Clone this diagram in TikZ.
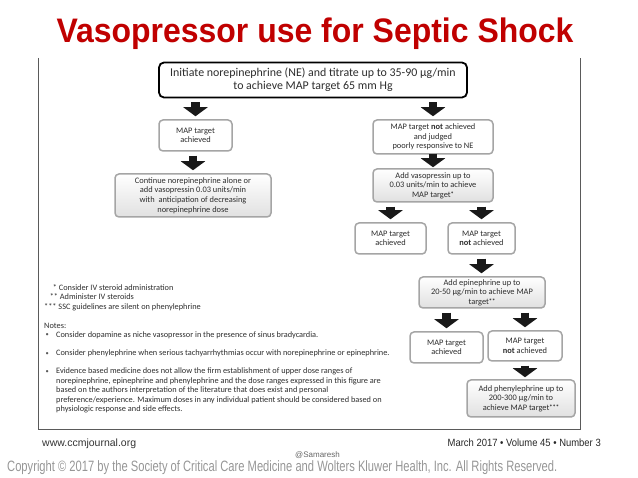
\documentclass[tikz,border=0pt]{standalone}
\usepackage{fontspec}
\setmainfont{Carlito}
\newfontfamily\arialfont{Liberation Sans}
\newfontfamily\titlefont{Liberation Sans}[FakeStretch=0.94]
\newfontfamily\narrowfont{Liberation Sans}[FakeStretch=0.745]
\newfontfamily\midfont{Liberation Sans}[FakeStretch=0.9]
\usetikzlibrary{arrows.meta}
\definecolor{titlered}{RGB}{192,0,0}
\definecolor{boxgray}{RGB}{165,165,165}
\definecolor{txtc}{RGB}{45,45,45}
\definecolor{arrowc}{RGB}{25,25,25}
\definecolor{framec}{RGB}{90,90,90}
\definecolor{copyc}{RGB}{150,150,150}
\newcommand{\stars}[1]{\raisebox{0.15em}{\fontsize{6.5}{6.5}\selectfont\bfseries #1}}
\tikzset{
  mainbox/.style={draw=black, line width=1.8pt, rounded corners=5pt, fill=white, align=center,
    text=txtc, font=\fontsize{11.9}{13.2}\selectfont, inner sep=0pt},
  mapbox/.style={draw=boxgray, line width=1.5pt, rounded corners=4pt, fill=white, align=center,
    text=txtc, font=\fontsize{8.4}{9.6}\selectfont, inner sep=0pt},
  actbox/.style={mapbox, top color=white, bottom color=black!12},
  blockarrow/.style={draw=arrowc, line width=8.5pt, -{Triangle[width=24pt,length=9pt]},
    shorten <=4pt, shorten >=3pt},
  notetxt/.style={anchor=base west, inner sep=0pt, text=txtc, font=\fontsize{8.3}{9.5}\selectfont},
  bullettxt/.style={anchor=base west, inner sep=0pt, text=black!65, font=\fontsize{6.5}{8}\selectfont},
}
\begin{document}
\begin{tikzpicture}[x=1pt,y=-1pt]
\useasboundingbox (0,0) rectangle (638,478);
% title
\node[anchor=base, inner sep=0pt, text=titlered, font=\titlefont\bfseries\fontsize{34}{38}\selectfont] (title) at (315,43) {Vasopressor use for Septic Shock};
% frame
\draw[framec, line width=0.8pt] (38,58) -- (38,429) -- (580,429) -- (580,58);
% boxes
\node[mainbox, minimum width=308pt, minimum height=35pt] (init) at (313,80)
  {Initiate norepinephrine (NE) and titrate up to 35-90 µg/min\\to achieve MAP target 65 mm Hg};
\node[mapbox, minimum width=73pt, minimum height=31pt] (ach1) at (195.5,135.5) {MAP target\\achieved};
\node[actbox, minimum width=156pt, minimum height=43pt] (cont) at (193,195.5)
  {Continue norepinephrine alone or\\add vasopressin 0.03 units/min\\with\ \ anticipation of decreasing\\norepinephrine dose};
\node[mapbox, minimum width=120pt, minimum height=34pt] (nach1) at (433,137)
  {MAP target \textbf{not} achieved\\and judged\\poorly responsive to NE};
\node[actbox, minimum width=120pt, minimum height=33pt] (vaso) at (433,185.5)
  {Add vasopressin up to\\0.03 units/min to achieve\\MAP target\stars{*}};
\node[mapbox, minimum width=71pt, minimum height=31pt] (ach2) at (390.5,238.5) {MAP target\\achieved};
\node[mapbox, minimum width=67pt, minimum height=31pt] (nach2) at (481.5,238.5) {MAP target\\\textbf{not} achieved};
\node[actbox, minimum width=126pt, minimum height=31pt] (epi) at (482,292.5)
  {Add epinephrine up to\\20-50 µg/min to achieve MAP\\target\stars{**}};
\node[mapbox, minimum width=73pt, minimum height=31pt] (ach3) at (446.5,347.5) {MAP target\\achieved};
\node[mapbox, minimum width=74pt, minimum height=30pt] (nach3) at (525,346) {MAP target\\\textbf{not} achieved};
\node[actbox, minimum width=108pt, minimum height=37pt] (phen) at (521,398.5)
  {Add phenylephrine up to\\200-300 µg/min to\\achieve MAP target\stars{***}};
% arrows
\draw[blockarrow] (init.south -| ach1.north) -- (ach1.north);
\draw[blockarrow] (init.south -| nach1.north) -- (nach1.north);
\draw[blockarrow] (ach1.south -| cont.north) -- (cont.north);
\draw[blockarrow, shorten <=-1pt, shorten >=1pt] (nach1.south) -- (vaso.north);
\draw[blockarrow] (vaso.south -| ach2.north) -- (ach2.north);
\draw[blockarrow] (vaso.south -| nach2.north) -- (nach2.north);
\draw[blockarrow] (nach2.south) -- (nach2.south |- epi.north);
\draw[blockarrow] (epi.south -| ach3.north) -- (ach3.north);
\draw[blockarrow] (epi.south -| nach3.north) -- (nach3.north);
\draw[blockarrow, shorten >=2pt] (nach3.south) -- (nach3.south |- phen.north);
% footnotes
\node[notetxt] (f1) at (52.7,290.5) {* Consider IV steroid administration};
\node[notetxt] (f2) at (49.6,300) {** Administer IV steroids};
\node[notetxt] (f3) at (44,309.5) {*** SSC guidelines are silent on phenylephrine};
\node[notetxt] (notes) at (44,328.5) {Notes:};
\node[bullettxt] (b1) at (45.5,337) {•};
\node[notetxt] (n1) at (56,337.5) {Consider dopamine as niche vasopressor in the presence of sinus bradycardia.};
\node[bullettxt] (b2) at (45.5,355.5) {•};
\node[notetxt] (n2) at (56,356) {Consider phenylephrine when serious tachyarrhythmias occur with norepinephrine or epinephrine.};
\node[bullettxt] (b3) at (45.5,374) {•};
\node[notetxt, anchor=north west, align=left] (n3) at (56,367.9) {Evidence based medicine does not allow the firm establishment of upper dose ranges of\\norepinephrine, epinephrine and phenylephrine and the dose ranges expressed in this figure are\\based on the authors interpretation of the literature that does exist and personal\\preference/experience. Maximum doses in any individual patient should be considered based on\\physiologic response and side effects.};
% footer
\node[anchor=base west, inner sep=0pt, text=black!80, font=\arialfont\fontsize{10.5}{12}\selectfont] (www) at (42,446.5) {www.ccmjournal.org};
\node[anchor=base east, inner sep=0pt, text=black!85, font=\midfont\fontsize{10.5}{12}\selectfont] (issue) at (601,446.5) {March 2017 • Volume 45 • Number 3};
\node[anchor=base west, inner sep=0pt, text=copyc, font=\narrowfont\fontsize{15}{17}\selectfont] (copy) at (7,471.5) {Copyright © 2017 by the Society of Critical Care Medicine and Wolters Kluwer Health, Inc. All Rights Reserved.};
\node[anchor=base west, inner sep=0pt, text=black!60, font=\arialfont\fontsize{8}{9}\selectfont] (sam) at (295,457.5) {@Samaresh};
\end{tikzpicture}
\end{document}
